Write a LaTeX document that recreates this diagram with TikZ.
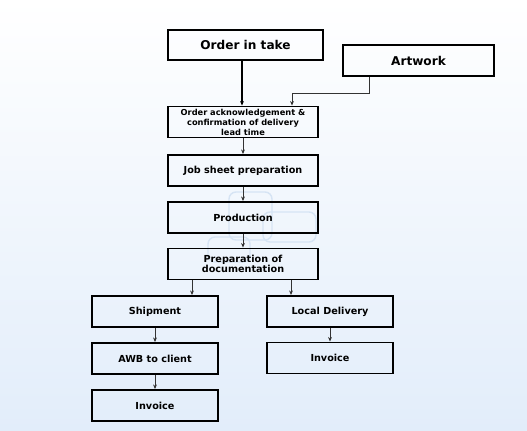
\documentclass[tikz,border=0pt]{standalone}
\usepackage{fontspec}
\setmainfont{DejaVu Sans}
\usepackage{tikz}
\usetikzlibrary{arrows.meta, positioning}
\definecolor{bgblue}{RGB}{226,237,250}
\definecolor{markblue}{RGB}{214,228,244}
\tikzset{
    bigbox/.style={rectangle, minimum width=3.1cm, minimum height=0.6cm, align=center, draw=black, line width=1.6pt, font=\fontsize{6.9}{8}\selectfont\bfseries},
    midbox/.style={rectangle, minimum width=3cm, minimum height=0.62cm, align=center, draw=black, line width=1.1pt, font=\fontsize{5.5}{6.1}\selectfont\bfseries, inner sep=1pt},
    lowbox/.style={midbox, minimum width=2.52cm},
    arrow/.style={-{Stealth[length=2.6pt, width=2.2pt]}, line width=0.5pt, draw=black!80},
    bigarrow/.style={-{Stealth[length=2.6pt, width=2.2pt]}, line width=1.1pt}
}
\begin{document}
\begin{tikzpicture}[x=0.02cm, y=-0.02cm]
    % Background
    \shade[top color=white, bottom color=bgblue] (0,0) rectangle (527,431);
    \useasboundingbox (0,0) rectangle (527,431);

    % Faint watermark
    \draw[markblue, line width=0.8pt, rounded corners=4pt] (229,192) rectangle (272,240);
    \draw[markblue, line width=0.8pt, rounded corners=4pt] (263,212) rectangle (316,242);
    \draw[markblue, line width=0.8pt, rounded corners=4pt] (208,237) rectangle (250,262);

    % Boxes
    \node[bigbox] (intake) at (245.5, 45) {Order in take};
    \node[bigbox, minimum width=3.02cm, minimum height=0.62cm] (artwork) at (418.5, 60.5) {Artwork};
    \node[midbox, font=\fontsize{4.7}{5.7}\selectfont\bfseries] (ack) at (243, 122) {Order acknowledgement \&\\confirmation of delivery\\lead time};
    \node[midbox] (jobsheet) at (243, 170.5) {Job sheet preparation};
    \node[midbox] (production) at (243, 217.5) {Production};
    \node[midbox] (prepdoc) at (243, 264) {Preparation of\\documentation};
    \node[lowbox] (shipment) at (155, 311.5) {Shipment};
    \node[lowbox] (localdel) at (330, 311.5) {Local Delivery};
    \node[lowbox] (awb) at (155, 358.5) {AWB to client};
    \node[lowbox] (invoiceR) at (330, 358) {Invoice};
    \node[lowbox] (invoiceL) at (155, 405.5) {Invoice};

    % Connectors
    \draw[bigarrow] ([xshift=-0.02cm]ack.north |- intake.south) -- ([xshift=-0.02cm]ack.north);
    \draw[arrow] ([xshift=-0.99cm]artwork.south) -- ++(0,16) -| ([xshift=0.98cm]ack.north);
    \draw[arrow] (ack) -- (jobsheet);
    \draw[arrow] (jobsheet) -- (production);
    \draw[arrow] (production) -- (prepdoc);
    \draw[arrow] ([xshift=0.74cm]shipment.north |- prepdoc.south) -- ([xshift=0.74cm]shipment.north);
    \draw[arrow] ([xshift=-0.78cm]localdel.north |- prepdoc.south) -- ([xshift=-0.78cm]localdel.north);
    \draw[arrow] (shipment) -- (awb);
    \draw[arrow] (awb) -- (invoiceL);
    \draw[arrow] (localdel) -- (invoiceR);
\end{tikzpicture}
\end{document}
